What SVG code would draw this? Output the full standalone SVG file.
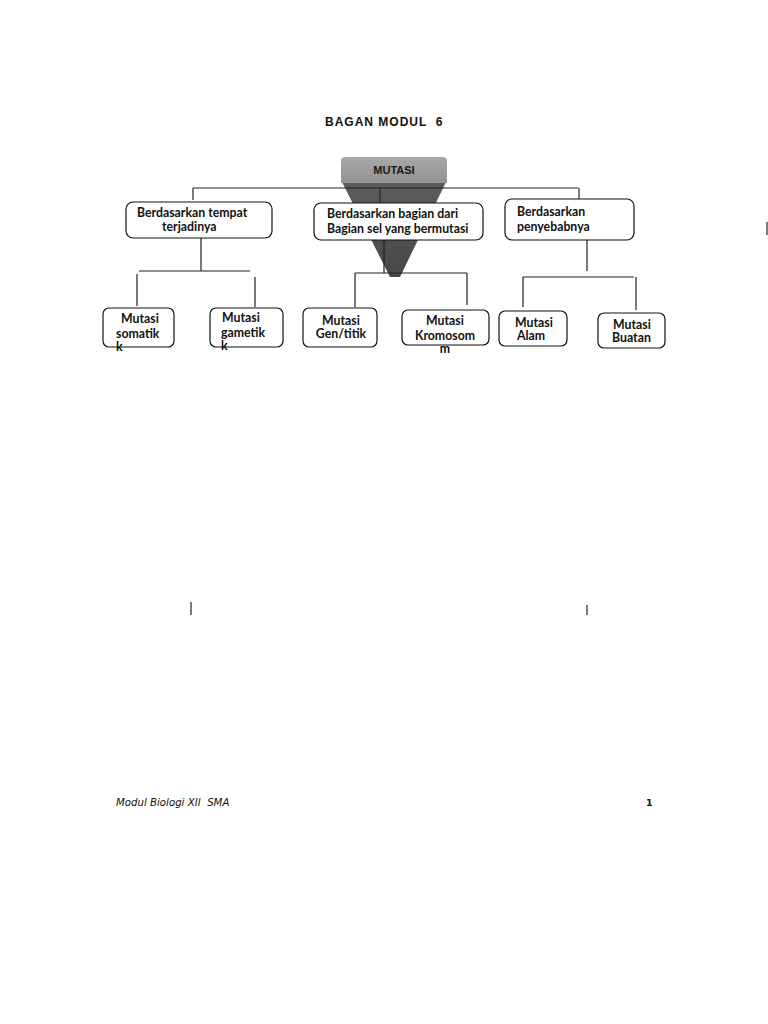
<svg xmlns="http://www.w3.org/2000/svg" width="768" height="1024" viewBox="0 0 768 1024">
<style>
.box{fill:#fff;stroke:#111;stroke-width:1.2}
.ln{stroke:#222;stroke-width:1.2;fill:none}
.t{font-family:Lato,"Liberation Sans",sans-serif;font-weight:bold;font-size:12.3px;fill:#111}
.c{text-anchor:middle}
.pre{white-space:pre}
</style>
<defs>
<linearGradient id="gTop" x1="0" y1="0" x2="0" y2="1">
<stop offset="0" stop-color="#a8a8a8"/>
<stop offset="1" stop-color="#929292"/>
</linearGradient>
<linearGradient id="gFun" x1="0" y1="0" x2="0" y2="1">
<stop offset="0" stop-color="#5c5c5c"/>
<stop offset="1" stop-color="#474747"/>
</linearGradient>
</defs>
<rect width="768" height="1024" fill="#fff"/>
<text class="pre" xml:space="preserve" x="325" y="126" style="font-family:'Liberation Sans',Arial,sans-serif;font-weight:bold;font-size:12px;letter-spacing:1px" fill="#111">BAGAN MODUL  6</text>

<g id="root">
<polygon points="342,182 446,182 400,277 390,277" fill="url(#gFun)"/>
<path d="M341,183 V161 Q341,157 345,157 H443 Q447,157 447,161 V183 Z" fill="url(#gTop)"/>
<text x="394" y="174" class="c" style="font-family:'Liberation Sans',sans-serif;font-weight:bold;font-size:11px" fill="#1a1a1a">MUTASI</text>
</g>

<g id="connectors">
<path class="ln" d="M193,188 H578"/>
<path class="ln" d="M193,188 V200"/>
<path class="ln" d="M380,188 V202"/>
<path class="ln" d="M579,188 V199"/>
<path class="ln" d="M201,238 V271 M139,271 H250 M137,274 V306 M255,277 V307"/>
<path class="ln" d="M384,241 V273 M355,273 H467 M355,273 V307 M467,273 V305"/>
<path class="ln" d="M587,240 V271 M523,277 H634 M523,277 V307 M636,277 V310"/>
</g>

<g id="n-tempat">
<rect class="box" x="126" y="202" width="146" height="36" rx="7"/>
<text class="t" x="137" y="217">Berdasarkan tempat</text>
<text class="t" x="162" y="231">terjadinya</text>
</g>
<g id="n-bagian">
<rect class="box" x="314" y="203" width="169" height="37" rx="7"/>
<text class="t" x="327" y="218">Berdasarkan bagian dari</text>
<text class="t" x="327" y="233">Bagian sel yang bermutasi</text>
</g>
<g id="n-penyebab">
<rect class="box" x="505" y="199" width="129" height="41" rx="7"/>
<text class="t" x="517" y="216">Berdasarkan</text>
<text class="t" x="517" y="231">penyebabnya</text>
</g>

<g id="n-somatik">
<rect class="box" x="103" y="308" width="71" height="39" rx="6"/>
<text class="t" x="121" y="323">Mutasi</text>
<text class="t" x="116" y="338">somatik</text>
<text class="t" x="116" y="351">k</text>
</g>
<g id="n-gametik">
<rect class="box" x="210" y="308" width="73" height="39" rx="6"/>
<text class="t" x="222" y="322">Mutasi</text>
<text class="t" x="221" y="337">gametik</text>
<text class="t" x="221" y="350">k</text>
</g>
<g id="n-gen">
<rect class="box" x="303" y="308" width="74" height="39" rx="6"/>
<text class="t c" x="341" y="325">Mutasi</text>
<text class="t c" x="341" y="338">Gen/titik</text>
</g>
<g id="n-kromosom">
<rect class="box" x="402" y="310" width="87" height="35" rx="6"/>
<text class="t c" x="445" y="325">Mutasi</text>
<text class="t c" x="445" y="340">Kromosom</text>
<text class="t c" x="445" y="353">m</text>
</g>
<g id="n-alam">
<rect class="box" x="499" y="311" width="68" height="35" rx="6"/>
<text class="t" x="515" y="327">Mutasi</text>
<text class="t" x="517" y="340">Alam</text>
</g>
<g id="n-buatan">
<rect class="box" x="598" y="313" width="67" height="35" rx="6"/>
<text class="t" x="613" y="329">Mutasi</text>
<text class="t" x="612" y="342">Buatan</text>
</g>

<path class="ln" d="M767,222 V235"/>
<path class="ln" d="M191,602 V615"/>
<path class="ln" d="M587,605 V615"/>

<text class="pre" xml:space="preserve" x="116" y="806" style="font-family:'DejaVu Sans',Verdana,sans-serif;font-style:italic;font-size:10.2px" fill="#111">Modul Biologi XII  SMA</text>
<text x="646" y="806" style="font-family:'DejaVu Sans',sans-serif;font-weight:bold;font-size:9.5px" fill="#111">1</text>
</svg>
